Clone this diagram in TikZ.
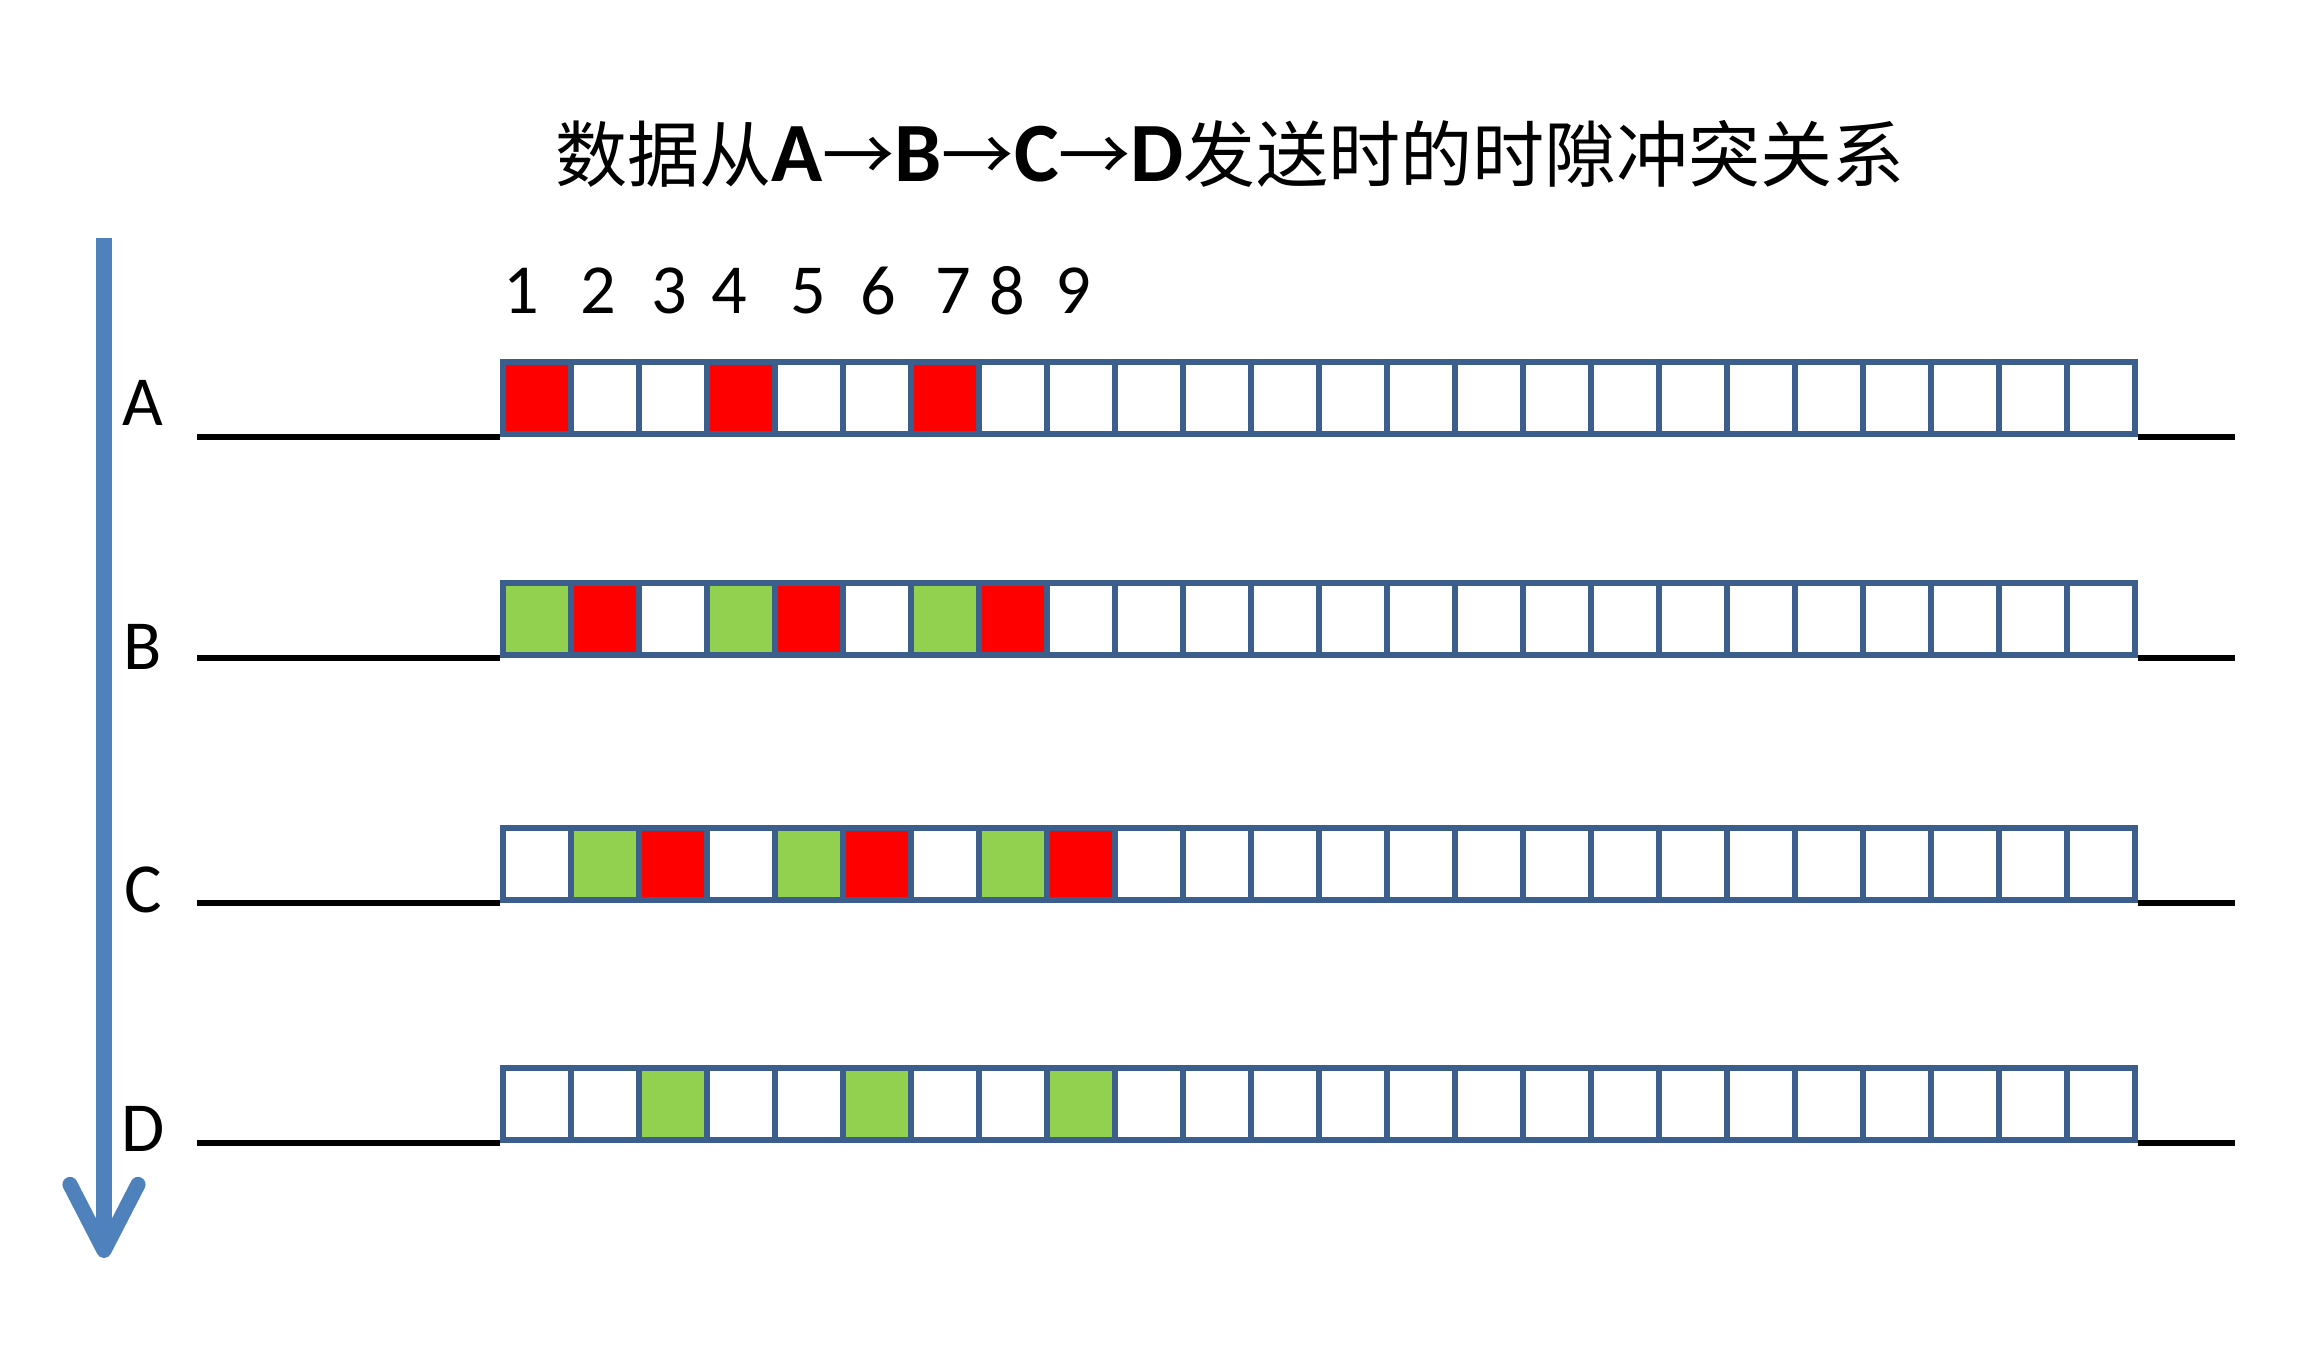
\documentclass[tikz,border=0pt]{standalone}
\usepackage{fontspec}
\setmainfont{Carlito}
\newfontfamily\cjk{Noto Sans CJK SC}
\usetikzlibrary{arrows.meta}
\definecolor{slotblue}{HTML}{3B5E8C}
\definecolor{axisblue}{HTML}{4F81BD}
\definecolor{sendred}{HTML}{FF0000}
\definecolor{recvgreen}{HTML}{92D050}

\begin{document}
\begin{tikzpicture}[x = 0.01cm, y = -0.01cm,
    slot/.style = {draw = slotblue, line width = 1.7pt, fill = white, inner sep = 0pt,
        minimum width = 0.68cm, minimum height = 0.72cm, anchor = south west},
    send/.style = {fill = sendred}, recv/.style = {fill = recvgreen}, idle/.style = {},
    wire/.style = {line width = 1.7pt, black},
    lbl/.style = {font = \fontsize{20pt}{24pt}\selectfont, inner sep = 0pt}]
    \useasboundingbox (0,0) rectangle (2323,1356);
    \node (title) at (1230,154) {\fontsize{20.5pt}{24pt}\selectfont
        {\cjk 数据从}{\fontsize{24pt}{24pt}\selectfont\bfseries A}{\cjk →}{\fontsize{24pt}{24pt}\selectfont\bfseries B}{\cjk →}%
        {\fontsize{24pt}{24pt}\selectfont\bfseries C}{\cjk →}{\fontsize{24pt}{24pt}\selectfont\bfseries D}{\cjk 发送时的时隙冲突关系}};
    \foreach \x [count = \n] in {521,598,669,729,808,878,953,1007,1073}
        \node [lbl] (num\n) at (\x,291) {\n};
    \foreach \row/\yb/\ly/\fills in {A/437/403/{send,idle,idle,send,idle,idle,send,idle,idle},
            B/658/647/{recv,send,idle,recv,send,idle,recv,send,idle},
            C/903/890/{idle,recv,send,idle,recv,send,idle,recv,send},
            D/1143/1129/{idle,idle,recv,idle,idle,recv,idle,idle,recv}}{
        \foreach \f [count = \i] in \fills
            \node [slot, \f] (\row\i) at ({500 + 68*(\i-1)}, \yb) {};
        \foreach \i in {10,...,24}
            \node [slot] (\row\i) at ({500 + 68*(\i-1)}, \yb) {};
        \coordinate (\row-l) at (197,\yb);
        \coordinate (\row-r) at (2235,\yb);
        \draw [wire] (\row-l) -- (\row1.south west);
        \draw [wire] (\row24.south east) -- (\row-r);
        \node [lbl] (lab\row) at (143,\ly) {\row};
    }
    \coordinate (t0) at (104,238);
    \coordinate (t1) at (104,1258);
    \draw [axisblue, line width = 4.3pt,
        -{Straight Barb[length = 0.66cm, width = 0.68cm, line cap = round, line join = round]}] (t0) -- (t1);
\end{tikzpicture}
\end{document}
